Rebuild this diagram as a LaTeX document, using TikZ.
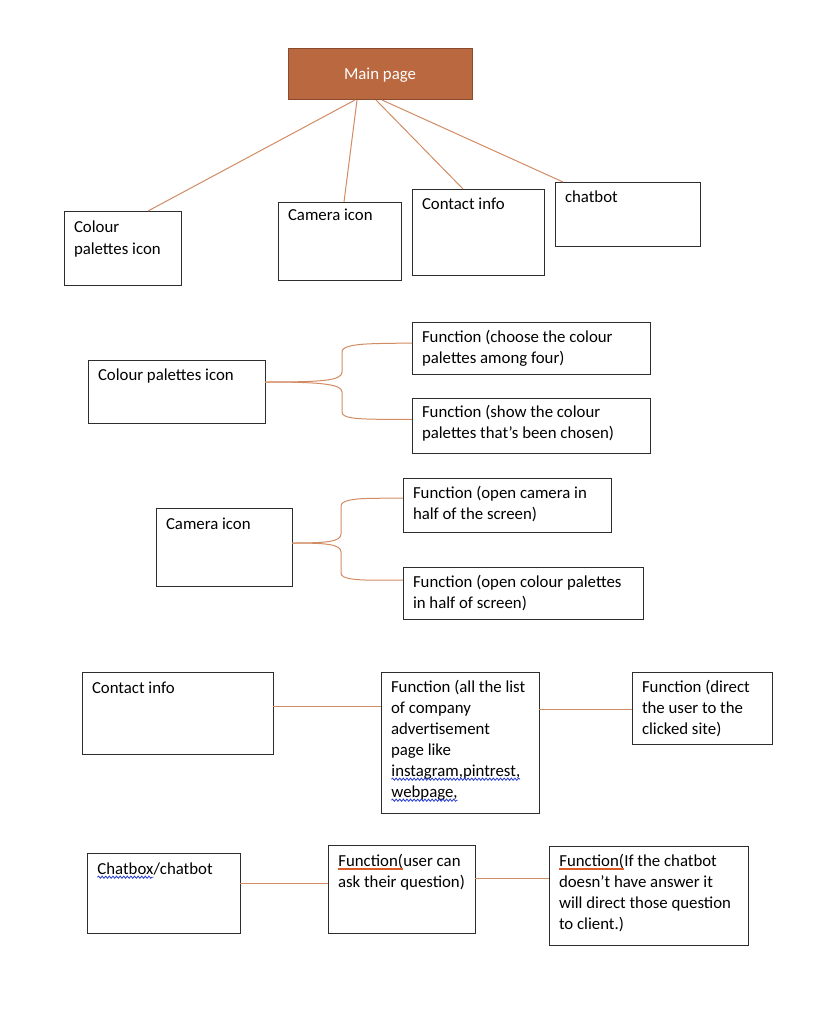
\documentclass[tikz,border=0pt]{standalone}
\usepackage{fontspec}
\setmainfont{Carlito}
\usetikzlibrary{decorations.pathmorphing,calc}
\definecolor{conn}{RGB}{210,140,100}
\definecolor{mainfill}{RGB}{186,104,64}
\definecolor{maindraw}{RGB}{140,75,45}
\definecolor{boxdraw}{RGB}{45,45,45}
\definecolor{spellblue}{RGB}{40,60,210}
\definecolor{spellorange}{RGB}{220,90,40}
\newcommand\wv[1]{\tikz[baseline=(w.base)]{\node[inner sep=0pt,outer sep=0pt,anchor=base](w){#1};\draw[spellblue,line width=0.8pt,decorate,decoration={snake,amplitude=1.1pt,segment length=3.6pt}]([yshift=-3.2pt]w.base west)--([yshift=-3.2pt]w.base east);}}
\newcommand\du[1]{\tikz[baseline=(w.base)]{\node[inner sep=0pt,outer sep=0pt,anchor=base](w){#1};\draw[spellorange,line width=0.7pt]([yshift=-2.2pt]w.base west)--([yshift=-2.2pt]w.base east) ([yshift=-3.8pt]w.base west)--([yshift=-3.8pt]w.base east);}}
\newcommand\bx[7]{%
  \node[box,minimum width={(#4-#2)*1pt},minimum height={(#5-#3)*1pt}] (#1) at ({(#2+#4)/2},{(#3+#5)/2}) {};
  \node[txt] (#1t) at ([shift={(10pt,-#6pt)}]#1.north west) {\begin{tabular}[t]{@{}l@{}}#7\end{tabular}};}
\begin{document}
\begin{tikzpicture}[x=1pt,y=-1pt,
  box/.style={draw=boxdraw,line width=0.8pt,inner sep=0pt,outer sep=0pt},
  txt/.style={anchor=base west,inner sep=0pt,outer sep=0pt,font=\fontsize{16.8}{21}\selectfont},
  cline/.style={draw=conn,line width=1pt}]
\useasboundingbox[fill=white] (0,0) rectangle (823,1024);
% main page
\node[draw=maindraw,fill=mainfill,line width=1pt,minimum width=184pt,minimum height=51pt,inner sep=0pt,outer sep=0pt] (main) at (380,74.5) {};
\node[font=\fontsize{16.8}{21}\selectfont,text=white,anchor=base,inner sep=0pt] (maint) at ([yshift=-31pt]main.north) {Main page};
% top row
\bx{cpt}{64}{211}{181}{285}{22}{Colour\\palettes icon}
\bx{cam}{278}{202}{401}{280}{19}{Camera icon}
\bx{con}{412}{189}{544}{275}{21}{Contact info}
\bx{cbt}{555}{182}{700}{246}{21}{chatbot}
\draw[cline] ([xshift=67pt]main.south west) -- ([xshift=84pt]cpt.north west);
\draw[cline] ([xshift=69pt]main.south west) -- ([xshift=66pt]cam.north west);
\draw[cline] ([xshift=88pt]main.south west) -- ([xshift=51pt]con.north west);
\draw[cline] ([xshift=94pt]main.south west) -- ([xshift=8pt]cbt.north west);
% colour palettes section
\bx{cp2}{88}{360}{265}{423}{20}{Colour palettes icon}
\bx{fa}{412}{322}{650}{374}{20}{Function (choose the colour\\palettes among four)}
\bx{fb}{412}{398}{650}{453}{19}{Function (show the colour\\palettes that’s been chosen)}
\draw[cline] ([yshift=9.5pt]cp2.east) .. controls (320,382) and (342,381) .. (342,372) -- (342,352) .. controls (342,346) and (355,344) .. (380,343.5) -- ([yshift=5pt]fa.west);
\draw[cline] ([yshift=9.5pt]cp2.east) .. controls (320,382) and (342,384) .. (342,392) -- (342,412) .. controls (342,418) and (355,419) .. (380,419.3) -- ([yshift=6pt]fb.west);
% camera section
\bx{cam2}{156}{508}{292}{586}{21}{Camera icon}
\bx{fc}{403}{478}{611}{532}{20}{Function (open camera in\\half of the screen)}
\bx{fd}{403}{567}{643}{619}{20}{Function (open colour palettes\\in half of screen)}
\draw[cline] ([yshift=4pt]cam2.east) .. controls (325,543) and (341,542) .. (341,534) -- (341,506) .. controls (341,500) and (355,498.5) .. (375,498.3) -- ([yshift=7pt]fc.west);
\draw[cline] ([yshift=4pt]cam2.east) .. controls (325,543) and (341,544) .. (341,552) -- (341,573) .. controls (341,579) and (355,580) .. (375,580.2) -- ([yshift=13pt]fd.west);
% contact section
\bx{con2}{82}{672}{273}{754}{21}{Contact info}
\bx{fe}{381}{672}{539}{813}{20}{Function (all the list\\of company\\advertisement\\page like\\\wv{instagram,pintrest,}\\\wv{webpage,}}
\bx{ff}{632}{672}{772}{744}{20}{Function (direct\\the user to the\\clicked site)}
\draw[cline] ([yshift=7pt]con2.east) -- ([yshift=36.5pt]fe.west);
\draw[cline] ([yshift=33.5pt]fe.east) -- ([yshift=-1pt]ff.west);
% chatbot section
\bx{chb}{87}{853}{240}{933}{21}{\wv{Chatbox}/chatbot}
\bx{fg}{328}{845}{475}{933}{21}{\du{Function(}user can\\ask their question)}
\bx{fh}{549}{846}{748}{945}{20}{\du{Function(}If the chatbot\\doesn’t have answer it\\will direct those question\\to client.)}
\draw[cline] ([yshift=10pt]chb.east) -- ([yshift=6pt]fg.west);
\draw[cline] ([yshift=11pt]fg.east) -- ([yshift=17.5pt]fh.west);
\end{tikzpicture}
\end{document}
